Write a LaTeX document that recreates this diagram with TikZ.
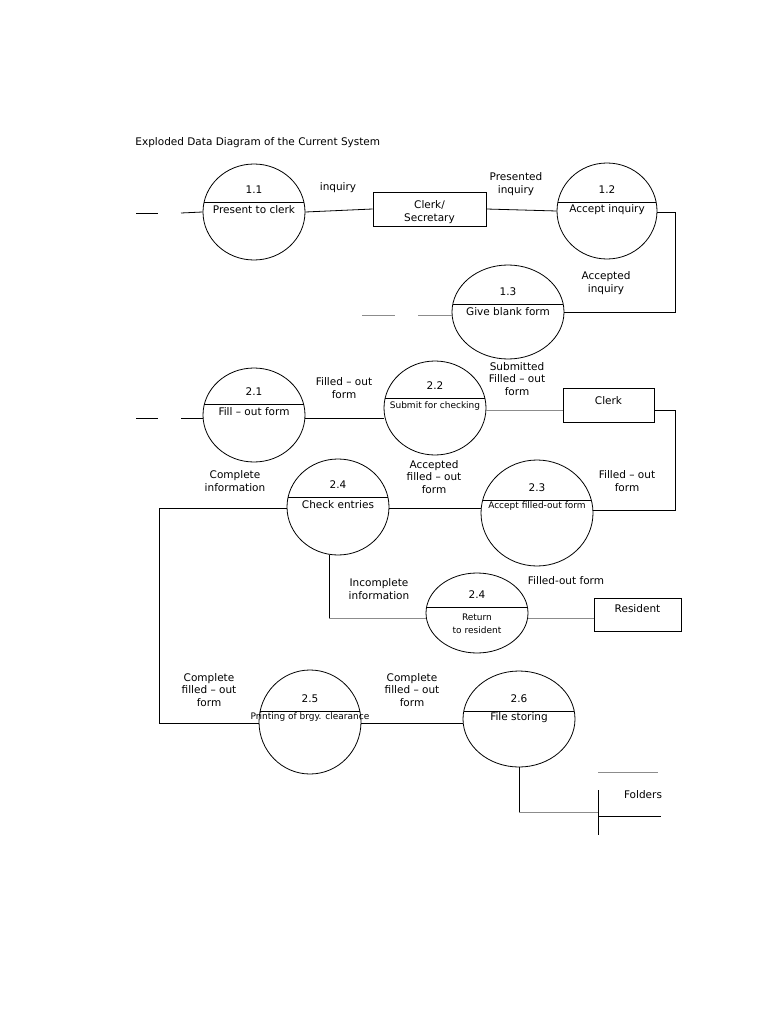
\documentclass[tikz,border=0pt]{standalone}
\usepackage{fontspec}
\setmainfont{DejaVu Sans}
\begin{document}
\begin{tikzpicture}[x=1pt,y=-1pt,line width=0.8pt,
  lbl/.style={font=\fontsize{10.5}{12.5}\selectfont,align=center,inner sep=0pt},
  sml/.style={font=\fontsize{9}{13}\selectfont,align=center,inner sep=0pt},
  ln/.style={draw=black},
  gln/.style={draw=black!45}]
\useasboundingbox[fill=white] (0,0) rectangle (768,1024);
\newcommand{\proc}[7]{% name,x,y,rx,ry,divy,num
  \node[draw,ellipse,minimum width=2*#4 pt,minimum height=2*#5 pt,inner sep=0pt] (#1) at (#2,#3) {};
  \draw ({#2-sqrt(1-((#6-#3)/#5)^2)*#4},#6) -- ({#2+sqrt(1-((#6-#3)/#5)^2)*#4},#6);
  \node[lbl] (#1n) at (#2,#6-12) {#7};}
\usetikzlibrary{shapes.geometric}
\node[lbl,anchor=west] (title) at (135,143) {Exploded Data Diagram of the Current System};
\proc{p11}{254}{212}{51}{48}{202}{1.1}
\proc{p12}{607}{211}{50}{48}{202}{1.2}
\proc{p13}{508}{312}{56}{47}{304}{1.3}
\proc{p21}{254}{415}{51}{47}{404}{2.1}
\proc{p22}{435}{408}{51}{47}{398}{2.2}
\proc{p24}{338}{507}{51}{48}{497}{2.4}
\proc{p23}{537}{513}{56}{53}{500}{2.3}
\proc{p24b}{477}{613}{51}{40}{607}{2.4}
\proc{p25}{310}{722}{51}{52}{711}{2.5}
\proc{p26}{519}{719}{56}{48}{711}{2.6}
\node[lbl] (t11) at (254,210) {Present to clerk};
\node[lbl] (t12) at (607,210) {Accept inquiry};
\node[lbl] (t13) at (508,312) {Give blank form};
\node[lbl] (t21) at (254,412) {Fill – out form};
\node[sml] (t22) at (435,406) {Submit for checking};
\node[lbl] (t24) at (338,505) {Check entries};
\node[sml] (t23) at (537,506) {Accept filled-out form};
\node[sml] (t24b) at (477,624) {Return\\to resident};
\node[sml] (t25) at (310,717) {Printing of brgy. clearance};
\node[lbl] (t26) at (519,718) {File storing};
% boxes
\node[draw,minimum width=113pt,minimum height=34pt,inner sep=0pt] (clerksec) at (429.5,209) {};
\begin{scope}
\clip (373,192) rectangle (486,226);
\node[lbl] (cst) at (429.5,212) {Clerk/\\Secretary};
\end{scope}
\node[draw,minimum width=91pt,minimum height=34pt,inner sep=0pt] (clerk) at (608.5,405) {};
\node[lbl] (clerkt) at (608.5,401) {Clerk};
\node[draw,minimum width=87pt,minimum height=33pt,inner sep=0pt] (res) at (637.5,614.5) {};
\node[lbl] (rest) at (637.5,609) {Resident};
% coordinates
\coordinate (a1) at (136,213); \coordinate (a2) at (158,213);
\coordinate (a3) at (181,213);
\draw (a1) -- (a2); \draw (a3) -- (p11.west);
\draw (p11.east) -- (clerksec.west);
\draw (clerksec.east) -- (p12.west);
\coordinate (r1) at (675,212); \coordinate (r2) at (675,312);
\draw (p12.east |- 0,212) -- (r1) -- (r2) -- (p13.east);
\coordinate (b1) at (362,315); \coordinate (b2) at (395,315); \coordinate (b3) at (418,315);
\draw[gln] (b1) -- (b2); \draw[gln] (b3) -- (452,315);
\coordinate (c1) at (136,418); \coordinate (c2) at (158,418); \coordinate (c3) at (181,418);
\draw (c1) -- (c2); \draw (c3) -- (203,418);
\draw (305,418) -- (384,418);
\draw[gln] (486,410) -- (clerk.west |- 0,410);
\coordinate (d1) at (675,410); \coordinate (d2) at (675,510);
\draw (clerk.east |- 0,410) -- (d1) -- (d2) -- (593,510);
\draw (481,508) -- (389,508);
\coordinate (e1) at (159,508); \coordinate (e2) at (159,723);
\draw (287,508) -- (e1) -- (e2) -- (259,723);
\coordinate (f1) at (329,618);
\draw (329,555) -- (f1); \draw[gln] (f1) -- (426,618);
\draw[gln] (528,618) -- (res.west |- 0,618);
\draw (361,723) -- (463,723);
\coordinate (g1) at (519,812);
\draw (p26.south) -- (g1); \draw[gln] (g1) -- (598,812);
\coordinate (h1) at (598,790); \coordinate (h2) at (598,835);
\draw (h1) -- (h2); \draw (598,816) -- (661,816);
\draw[gln] (598,772) -- (658,772);
\node[lbl] (fold) at (643,795) {Folders};
% labels
\node[lbl] (l1) at (338,188) {inquiry};
\node[lbl] (l2) at (516,184) {Presented\\inquiry};
\node[lbl] (l3) at (606,283) {Accepted\\inquiry};
\node[lbl] (l4) at (344,388) {Filled – out\\form};
\node[lbl] (l5) at (517,379) {Submitted\\Filled – out\\form};
\node[lbl] (l6) at (434,477) {Accepted\\filled – out\\form};
\node[lbl] (l7) at (627,481) {Filled – out\\form};
\node[lbl] (l8) at (235,481) {Complete\\information};
\node[lbl] (l9) at (379,589) {Incomplete\\information};
\node[lbl] (l10) at (566,581) {Filled-out form};
\node[lbl] (l11) at (209,690) {Complete\\filled – out\\form};
\node[lbl] (l12) at (412,690) {Complete\\filled – out\\form};
\end{tikzpicture}
\end{document}
